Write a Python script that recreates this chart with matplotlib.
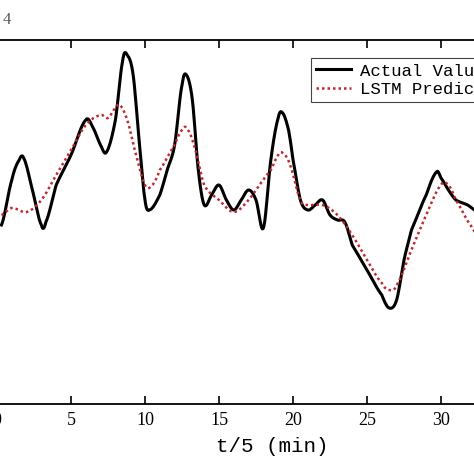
import matplotlib
matplotlib.use("Agg")
import matplotlib.pyplot as plt
import numpy as np

t_act = [0.3,1,1.5,1.8,2.3,3,3.3,4,5,6,6.5,7,7.4,8,8.5,8.8,9.2,9.6,10,10.3,11,11.5,12,12.5,12.8,13.2,13.6,14,14.5,15,15.5,16,16.5,17,17.5,18,18.5,19,19.3,19.7,20,20.5,21,21.5,22,22.5,23,23.5,24,25,26,26.5,27,27.5,28,29,29.7,30,30.5,31,31.8,32.5]
y_act_px = [225,180,160,158,185,225,222,185,155,120,128,145,152,120,60,55,75,140,200,210,195,170,145,85,75,100,170,205,195,185,200,210,200,190,200,228,160,118,113,130,160,200,210,205,200,215,220,222,245,270,295,308,300,260,230,195,172,178,190,200,205,212]
t_pred = [0.3,1,2,3,4,5,6,7,7.5,8,8.3,8.8,9.3,10,10.5,11,12,12.5,12.8,13.3,14,15,16,17,18,18.5,19,19.3,19.8,20.5,21,22,23,24,25,26,26.5,27,28,29,30,30.5,31,32,32.5]
y_pred_px = [215,208,212,200,175,150,125,115,118,108,105,120,150,185,185,170,145,130,128,145,185,200,212,200,180,170,155,153,165,200,205,205,215,235,260,283,290,285,250,215,185,185,200,225,234]

actual = [404 - v for v in y_act_px]
pred = [404 - v for v in y_pred_px]

def smooth(x, y, n=600):
    x = np.asarray(x, float); y = np.asarray(y, float)
    xs = np.linspace(x[0], x[-1], n)
    out = []
    for xv in xs:
        i = np.searchsorted(x, xv) - 1
        i = min(max(i, 0), len(x) - 2)
        p0 = y[max(i-1, 0)]; p1 = y[i]; p2 = y[i+1]; p3 = y[min(i+2, len(x)-1)]
        s = (xv - x[i]) / (x[i+1] - x[i])
        out.append(0.5*((2*p1) + (-p0+p2)*s + (2*p0-5*p1+4*p2-p3)*s**2 + (-p0+3*p1-3*p2+p3)*s**3))
    return xs, np.array(out)

fig = plt.figure(figsize=(4.74, 4.74), dpi=100)
ax = fig.add_axes([-3/474, 1-404/474, 34*14.8/474, 364/474])
xa, ya = smooth(t_act, actual)
xp, yp = smooth(t_pred, pred)
ax.plot(xa, ya, color='black', lw=2.2, label='Actual Value')
ax.plot(xp, yp, color='#c0282d', lw=1.8, ls=(0, (1, 1.2)), label='LSTM Prediction')
ax.set_xlim(0, 34)
ax.set_ylim(0, 364)
ax.set_xticks([0,5,10,15,20,25,30])
ax.set_xticklabels(['0','5','10','15','20','25','30'], family='Liberation Serif', fontsize=13)
ax.set_yticks([])
ax.tick_params(axis='x', direction='in', top=True, length=6, width=1.2, pad=6)
for s in ax.spines.values():
    s.set_linewidth(1.3)
ax.set_xlabel('t/5 (min)', family='Liberation Mono', fontsize=15, labelpad=4)
ax.xaxis.set_label_coords((272+3)/(34*14.8), -0.09)
leg = ax.legend(loc='upper left', bbox_to_anchor=(0.624, 0.95), borderaxespad=0,
                prop={'family': 'Liberation Mono', 'size': 12.5},
                fancybox=False, edgecolor='#444444', framealpha=1, borderpad=0.3,
                handlelength=2.0, handletextpad=0.5, labelspacing=0.2)
leg.get_frame().set_linewidth(0.8)
fig.text(0.005, 0.975, '4', family='Liberation Serif', fontsize=12, color='#555555', va='top')
fig.savefig('out.png', dpi=100)
